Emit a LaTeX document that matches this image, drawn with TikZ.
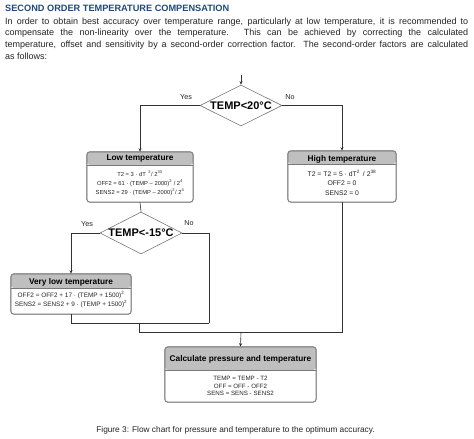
\documentclass[tikz,border=0pt]{standalone}
\usepackage{fontspec}
\setmainfont{Liberation Sans}
\usetikzlibrary{shapes.geometric,arrows.meta,calc}
\definecolor{titleblue}{RGB}{31,73,125}
\definecolor{hdrgray}{RGB}{191,191,191}
\definecolor{boxline}{RGB}{120,120,120}
\definecolor{linec}{RGB}{50,50,50}
\definecolor{txt}{RGB}{35,35,35}
\begin{document}
\begin{tikzpicture}[x=1pt,y=-1pt,
  box/.style={draw=boxline,line width=0.6pt,rounded corners=3pt,minimum width=#1,inner sep=0pt},
  conn/.style={draw=linec,line width=0.6pt},
  arr/.style={conn,-{Stealth[length=3.5pt,width=3pt]}},
  hdrtext/.style={font=\fontsize{8.3}{9}\selectfont\bfseries,text=black},
  formula/.style={font=\fontsize{5.8}{9}\selectfont,text=txt,align=center},
  dia/.style={draw=boxline,line width=0.6pt,shape=diamond,inner sep=0pt,minimum width=82pt,minimum height=41pt},
  diatext/.style={font=\fontsize{11}{12}\selectfont\bfseries,text=black},
  lbl/.style={font=\fontsize{7.2}{8}\selectfont,text=txt}
]
\useasboundingbox (0,0) rectangle (474,439);
% heading and paragraph
\node[anchor=west,inner sep=0pt,font=\fontsize{9.2}{10}\selectfont\bfseries,text=titleblue] (title) at (5,8) {SECOND ORDER TEMPERATURE COMPENSATION};
\node[anchor=north west,inner sep=0pt,text width=463pt,align=justify,font=\fontsize{9}{11.7}\selectfont,text=txt] (para) at (5,17.5)
{In order to obtain best accuracy over temperature range, particularly at low temperature, it is recommended to\linebreak compensate the non-linearity over the temperature. This can be achieved by correcting the calculated\linebreak temperature, offset and sensitivity by a second-order correction factor. The second-order factors are calculated\linebreak as follows:};

% boxes
\newcommand{\hdrbox}[6]{% name, cx, cy, w, h, header height
  \node[box=#4pt,minimum height=#5pt,
    path picture={\fill[hdrgray] (path picture bounding box.north west) rectangle ([yshift=-#6pt]path picture bounding box.north east);
      \draw[boxline,line width=0.5pt] ([yshift=-#6pt]path picture bounding box.north west) -- ([yshift=-#6pt]path picture bounding box.north east);}] (#1) at (#2,#3) {};
  \draw[boxline,line width=0.6pt,rounded corners=3pt] (#1.north west) rectangle (#1.south east);
}
\hdrbox{low}{140}{177}{106}{50}{13}
\hdrbox{high}{342}{176.5}{108}{51}{13}
\hdrbox{vlow}{71}{294}{120}{40}{14}
\hdrbox{calc}{240.5}{374.5}{151}{55}{23}

\node[hdrtext] (lowh) at (140,159) {Low temperature};
\node[formula] (lowf) at (140,183.2) {T2 = 3 · dT \,\textsuperscript{2}/ 2\textsuperscript{33}\\
OFF2 = 61 · (TEMP – 2000)\textsuperscript{2} / 2\textsuperscript{4}\\
SENS2 = 29 · (TEMP – 2000)\textsuperscript{2}/ 2\textsuperscript{4}};

\node[hdrtext] (highh) at (342,159) {High temperature};
\node[formula,font=\fontsize{6.8}{9.5}\selectfont] (highf) at (342,182.5) {T2 = T2 = 5 · dT\textsuperscript{2} \,/ 2\textsuperscript{38}\\
OFF2 = 0\\
SENS2 = 0};

\node[hdrtext] (vlowh) at (71,282) {Very low temperature};
\node[formula,font=\fontsize{6.4}{9}\selectfont] (vlowf) at (71,299.5) {OFF2 = OFF2 + 17 · (TEMP + 1500)\textsuperscript{2}\\
SENS2 = SENS2 + 9 · (TEMP + 1500)\textsuperscript{2}};

\node[hdrtext] (calch) at (240.5,359.5) {Calculate pressure and temperature};
\node[formula,font=\fontsize{6.2}{7.7}\selectfont] (calcf) at (240.5,386) {TEMP = TEMP - T2\\
OFF = OFF - OFF2\\
SENS = SENS - SENS2};

% diamonds
\node[dia] (d1) at (241,105.5) {};
\node[diatext] (d1t) at (241,105.5) {TEMP<20°C};
\node[dia,minimum height=42pt] (d2) at (141,233) {};
\node[diatext] (d2t) at (141,233) {TEMP<-15°C};

\node[lbl] (yes1) at (186,97) {Yes};
\node[lbl] (no1) at (290,97) {No};
\node[lbl] (yes2) at (87,224) {Yes};
\node[lbl] (no2) at (189,223.5) {No};

% connectors
\coordinate (start) at (241,75);
\coordinate (j1) at (209,323);
\coordinate (j1m) at (139,323);
\coordinate (j2) at (139,332);
\coordinate (j2m) at (241,332);
\draw[arr] (start) -- (d1.north);
\draw[arr] (d1.west) -| (low.north);
\draw[arr] (d1.east) -| (high.north);
\draw[conn] (low.south) -- (d2.north);
\draw[arr] (d2.west) -| (vlow.north);
\draw[conn] (d2.east) -| (j1);
\draw[conn] (vlow.south) |- (j1);
\draw[conn] (j1m) -- (j2);
\draw[conn] (high.south) |- (j2);
\draw[arr] (j2m) -- (calc.north);

% caption
\node[font=\fontsize{8.3}{9}\selectfont,text=txt] (caption) at (235.5,430) {Figure 3: Flow chart for pressure and temperature to the optimum accuracy.};
\end{tikzpicture}
\end{document}
